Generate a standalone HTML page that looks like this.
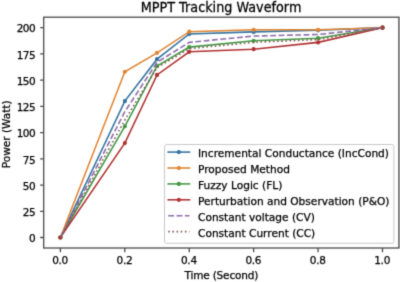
<!DOCTYPE html>
<html><head><meta charset="utf-8"><title>MPPT Tracking Waveform</title>
<style>html,body{margin:0;padding:0;background:#fff;width:400px;height:282px;overflow:hidden}svg{display:block}</style>
</head><body>
<svg width="400" height="282" viewBox="0 0 400 282">
<filter id="soft" x="0" y="0" width="400" height="282" filterUnits="userSpaceOnUse" color-interpolation-filters="sRGB"><feConvolveMatrix order="3" kernelMatrix="1 5 1 5 25 5 1 5 1" edgeMode="duplicate"/><feColorMatrix type="saturate" values="0.72"/></filter>
<g filter="url(#soft)">
<rect x="0" y="0" width="400" height="282" fill="#fff"/>
<path d="M60.4 248v4.2M124.82 248v4.2M189.24 248v4.2M253.66 248v4.2M318.08 248v4.2M382.5 248v4.2M43.7 237.51h-3.6M43.7 211.28h-3.6M43.7 185.05h-3.6M43.7 158.83h-3.6M43.7 132.6h-3.6M43.7 106.37h-3.6M43.7 80.15h-3.6M43.7 53.92h-3.6M43.7 27.69h-3.6" stroke="#4a4a4a" stroke-width="1.3" fill="none"/>
<g style="font-size:10.5px;font-family:'DejaVu Sans','Liberation Sans',sans-serif" fill="#000" stroke="#000" stroke-width="0.25">
<text x="60.05" y="264.1" text-anchor="middle" letter-spacing="-0.3">0.0</text>
<text x="124.47" y="264.1" text-anchor="middle" letter-spacing="-0.3">0.2</text>
<text x="188.89" y="264.1" text-anchor="middle" letter-spacing="-0.3">0.4</text>
<text x="253.31" y="264.1" text-anchor="middle" letter-spacing="-0.3">0.6</text>
<text x="317.73" y="264.1" text-anchor="middle" letter-spacing="-0.3">0.8</text>
<text x="382.15" y="264.1" text-anchor="middle" letter-spacing="-0.3">1.0</text>
<text x="35" y="242.31" text-anchor="end" letter-spacing="-0.6">0</text>
<text x="35" y="216.08" text-anchor="end" letter-spacing="-0.6">25</text>
<text x="35" y="189.85" text-anchor="end" letter-spacing="-0.6">50</text>
<text x="35" y="163.63" text-anchor="end" letter-spacing="-0.6">75</text>
<text x="35" y="137.4" text-anchor="end" letter-spacing="-0.6">100</text>
<text x="35" y="111.17" text-anchor="end" letter-spacing="-0.6">125</text>
<text x="35" y="84.95" text-anchor="end" letter-spacing="-0.6">150</text>
<text x="35" y="58.72" text-anchor="end" letter-spacing="-0.6">175</text>
<text x="35" y="32.49" text-anchor="end" letter-spacing="-0.6">200</text>
<text x="221.35" y="279.1" text-anchor="middle" letter-spacing="-0.17">Time (Second)</text>
<text transform="translate(10.2 134.3) rotate(-90)" text-anchor="middle">Power (Watt)</text>
</g>
<clipPath id="ax"><rect x="44.3" y="17.2" width="354.3" height="230.8"/></clipPath>
<g clip-path="url(#ax)">
<path d="M60.4 237.51 L124.82 101.13 L157.03 59.16 L189.24 33.99 L253.66 31.89 L318.08 30.31 L382.5 27.69" fill="none" style="stroke:#1f77b4;stroke-width:1.57;stroke-linecap:square;"/>
<circle cx="60.4" cy="237.51" r="1.57" fill="#1f77b4" stroke="#1f77b4" stroke-width="1.05"/>
<circle cx="124.82" cy="101.13" r="1.57" fill="#1f77b4" stroke="#1f77b4" stroke-width="1.05"/>
<circle cx="157.03" cy="59.16" r="1.57" fill="#1f77b4" stroke="#1f77b4" stroke-width="1.05"/>
<circle cx="189.24" cy="33.99" r="1.57" fill="#1f77b4" stroke="#1f77b4" stroke-width="1.05"/>
<circle cx="253.66" cy="31.89" r="1.57" fill="#1f77b4" stroke="#1f77b4" stroke-width="1.05"/>
<circle cx="318.08" cy="30.31" r="1.57" fill="#1f77b4" stroke="#1f77b4" stroke-width="1.05"/>
<circle cx="382.5" cy="27.69" r="1.57" fill="#1f77b4" stroke="#1f77b4" stroke-width="1.05"/>
<path d="M60.4 237.51 L124.82 71.75 L157.03 52.87 L189.24 31.68 L253.66 29.79 L318.08 29.79 L382.5 27.69" fill="none" style="stroke:#ff7f0e;stroke-width:1.57;stroke-linecap:square;"/>
<circle cx="60.4" cy="237.51" r="1.57" fill="#ff7f0e" stroke="#ff7f0e" stroke-width="1.05"/>
<circle cx="124.82" cy="71.75" r="1.57" fill="#ff7f0e" stroke="#ff7f0e" stroke-width="1.05"/>
<circle cx="157.03" cy="52.87" r="1.57" fill="#ff7f0e" stroke="#ff7f0e" stroke-width="1.05"/>
<circle cx="189.24" cy="31.68" r="1.57" fill="#ff7f0e" stroke="#ff7f0e" stroke-width="1.05"/>
<circle cx="253.66" cy="29.79" r="1.57" fill="#ff7f0e" stroke="#ff7f0e" stroke-width="1.05"/>
<circle cx="318.08" cy="29.79" r="1.57" fill="#ff7f0e" stroke="#ff7f0e" stroke-width="1.05"/>
<circle cx="382.5" cy="27.69" r="1.57" fill="#ff7f0e" stroke="#ff7f0e" stroke-width="1.05"/>
<path d="M60.4 237.51 L124.82 126.31 L157.03 65.98 L189.24 47.1 L253.66 40.8 L318.08 38.18 L382.5 27.69" fill="none" style="stroke:#2ca02c;stroke-width:1.57;stroke-linecap:square;"/>
<circle cx="60.4" cy="237.51" r="1.57" fill="#2ca02c" stroke="#2ca02c" stroke-width="1.05"/>
<circle cx="124.82" cy="126.31" r="1.57" fill="#2ca02c" stroke="#2ca02c" stroke-width="1.05"/>
<circle cx="157.03" cy="65.98" r="1.57" fill="#2ca02c" stroke="#2ca02c" stroke-width="1.05"/>
<circle cx="189.24" cy="47.1" r="1.57" fill="#2ca02c" stroke="#2ca02c" stroke-width="1.05"/>
<circle cx="253.66" cy="40.8" r="1.57" fill="#2ca02c" stroke="#2ca02c" stroke-width="1.05"/>
<circle cx="318.08" cy="38.18" r="1.57" fill="#2ca02c" stroke="#2ca02c" stroke-width="1.05"/>
<circle cx="382.5" cy="27.69" r="1.57" fill="#2ca02c" stroke="#2ca02c" stroke-width="1.05"/>
<path d="M60.4 237.51 L124.82 143.09 L157.03 74.9 L189.24 51.82 L253.66 49.2 L318.08 42.38 L382.5 27.69" fill="none" style="stroke:#d62728;stroke-width:1.57;stroke-linecap:square;"/>
<circle cx="60.4" cy="237.51" r="1.57" fill="#d62728" stroke="#d62728" stroke-width="1.05"/>
<circle cx="124.82" cy="143.09" r="1.57" fill="#d62728" stroke="#d62728" stroke-width="1.05"/>
<circle cx="157.03" cy="74.9" r="1.57" fill="#d62728" stroke="#d62728" stroke-width="1.05"/>
<circle cx="189.24" cy="51.82" r="1.57" fill="#d62728" stroke="#d62728" stroke-width="1.05"/>
<circle cx="253.66" cy="49.2" r="1.57" fill="#d62728" stroke="#d62728" stroke-width="1.05"/>
<circle cx="318.08" cy="42.38" r="1.57" fill="#d62728" stroke="#d62728" stroke-width="1.05"/>
<circle cx="382.5" cy="27.69" r="1.57" fill="#d62728" stroke="#d62728" stroke-width="1.05"/>
<path d="M60.4 237.51 L124.82 111.62 L157.03 62.31 L189.24 42.38 L253.66 36.08 L318.08 34.51 L382.5 27.69" fill="none" style="stroke:#9467bd;stroke-width:1.57;stroke-dasharray:5.83,2.52;stroke-dashoffset:-2.2;"/>
<path d="M60.4 237.51 L124.82 120.01 L157.03 67.56 L189.24 48.67 L253.66 42.38 L318.08 39.55 L382.5 27.69" fill="none" style="stroke:#8c564b;stroke-width:1.57;stroke-dasharray:1.57,2.6;"/>
</g>
<rect x="43.7" y="17.2" width="355.2" height="230.8" fill="none" stroke="#4a4a4a" stroke-width="1.3" stroke-linejoin="miter"/>
<text transform="translate(221.05 11.7) scale(1 1.08)" text-anchor="middle" stroke="#000" stroke-width="0.25" style="font-size:12.8px;font-family:'DejaVu Sans','Liberation Sans',sans-serif">MPPT Tracking Waveform</text>
<rect x="164.5" y="144.5" width="229.4" height="98.8" rx="2.1" fill="#fff" fill-opacity="0.8" stroke="#c8c8c8" stroke-width="1"/>
<g style="font-size:10.6px;font-family:'DejaVu Sans','Liberation Sans',sans-serif" fill="#000" stroke="#000" stroke-width="0.25">
<path d="M168.2 152.1H189.5" fill="none" style="stroke:#1f77b4;stroke-width:1.57;stroke-linecap:square;"/>
<circle cx="178.85" cy="152.1" r="1.57" fill="#1f77b4" stroke="#1f77b4" stroke-width="1.05"/>
<text x="198" y="157">Incremental Conductance (IncCond)</text>
<path d="M168.2 168H189.5" fill="none" style="stroke:#ff7f0e;stroke-width:1.57;stroke-linecap:square;"/>
<circle cx="178.85" cy="168" r="1.57" fill="#ff7f0e" stroke="#ff7f0e" stroke-width="1.05"/>
<text x="198" y="172.9">Proposed Method</text>
<path d="M168.2 183.9H189.5" fill="none" style="stroke:#2ca02c;stroke-width:1.57;stroke-linecap:square;"/>
<circle cx="178.85" cy="183.9" r="1.57" fill="#2ca02c" stroke="#2ca02c" stroke-width="1.05"/>
<text x="198" y="188.8">Fuzzy Logic (FL)</text>
<path d="M168.2 199.8H189.5" fill="none" style="stroke:#d62728;stroke-width:1.57;stroke-linecap:square;"/>
<circle cx="178.85" cy="199.8" r="1.57" fill="#d62728" stroke="#d62728" stroke-width="1.05"/>
<text x="198" y="204.7">Perturbation and Observation (P&amp;O)</text>
<path d="M168.2 215.7H189.5" fill="none" style="stroke:#9467bd;stroke-width:1.57;stroke-dasharray:5.83,2.52;"/>
<text x="198" y="220.6">Constant voltage (CV)</text>
<path d="M168.2 231.6H189.5" fill="none" style="stroke:#8c564b;stroke-width:1.57;stroke-dasharray:1.57,2.6;"/>
<text x="198" y="236.5">Constant Current (CC)</text>
</g>
</g>
</svg>
</body></html>
